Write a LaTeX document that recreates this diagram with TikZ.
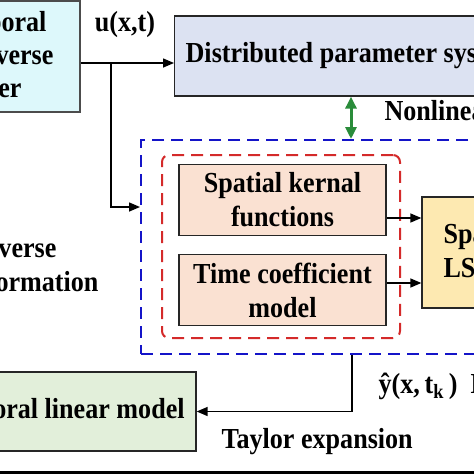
\documentclass[tikz,border=0pt]{standalone}
\usepackage{fontspec}
\setmainfont{Liberation Serif}[FakeStretch=0.9]
\usetikzlibrary{arrows.meta}
\definecolor{ctrlfill}{HTML}{DDF8FB}
\definecolor{dpsfill}{HTML}{DCE2F2}
\definecolor{peach}{HTML}{FAE1D2}
\definecolor{lsfill}{HTML}{FDE9B1}
\definecolor{tlmfill}{HTML}{E2EFDA}
\definecolor{identblue}{HTML}{1414C8}
\definecolor{featred}{HTML}{D42A2A}
\definecolor{arrgreen}{HTML}{2A8C3A}
\begin{document}
\begin{tikzpicture}[x=1pt,y=-1pt,
    every node/.style={font=\fontsize{29}{34}\selectfont\bfseries},
    blk/.style={draw=black!85,line width=1.3pt,inner sep=0pt},
    arr/.style={-{Triangle[length=11pt,width=9pt]},line width=1.5pt},
    dbl/.style={{Triangle[length=12pt,width=11pt]}-{Triangle[length=12pt,width=11pt]},line width=3pt,arrgreen},
    dsh/.style={line width=2pt,dash pattern=on 12pt off 7pt}]
  \useasboundingbox(0,0)rectangle(474,474);
  % boxes
  \node[blk,draw=black!70,fill=ctrlfill,minimum width=200pt,minimum height=111pt](ctrl) at(-20,56.5){};
  \node[anchor=base east](c1) at(50,31){Temporal};
  \node[anchor=base east](c2) at(57,64){inverse};
  \node[anchor=base east](c3) at(25,97){controller};
  \node[blk,fill=dpsfill,anchor=west,minimum height=80pt,inner xsep=11pt](dps) at(174,56){Distributed parameter system};
  \node[draw=identblue,dsh,minimum width=389pt,minimum height=214pt](ident) at(335.5,247){};
  \node[draw=featred,dsh,rounded corners=7pt,minimum width=238pt,minimum height=183pt](feat) at(281,246.5){};
  \node[blk,fill=peach,minimum width=207pt,minimum height=71pt,align=center](skf) at(282.5,200){Spatial kernal\\functions};
  \node[blk,fill=peach,minimum width=207pt,minimum height=71pt,align=center](tcm) at(282.5,290){Time coefficient\\model};
  \node[blk,fill=lsfill,minimum width=118pt,minimum height=111pt](lssvm) at(481,252.5){};
  \node[anchor=base west](ls1) at(440,243){Spatial};
  \node[anchor=base west](ls2) at(440,277){LS-SVM};
  \node[blk,fill=tlmfill,minimum width=277pt,minimum height=79pt](tlm) at(57.5,411.5){Temporal linear model};
  % labels
  \node[anchor=base](u) at(125,31){u(x,t)};
  \node[anchor=base west](nl) at(381,120){Nonlinear};
  \node[anchor=base west](yh) at(375,393){\^{y}(x,\,t\textsubscript{k}\,)\ \ Model};
  \node[anchor=base west](ty) at(218,448){Taylor expansion};
  \node[anchor=base east](iv1) at(60,257){Inverse};
  \node[anchor=base east](iv2) at(102,291){transformation};
  % connectors
  \coordinate(uy) at(0,63);
  \coordinate(br) at(111,63);
  \coordinate(bin) at(0,207);
  \coordinate(gx) at(351,0);
  \coordinate(yx) at(352,0);
  \draw[arr](ctrl.east|-uy)--(dps.west|-uy);
  \draw[arr](br)|-(ident.west|-bin);
  \draw[dbl](dps.south-|gx)--(ident.north-|gx);
  \foreach \s/\y in {skf/218,tcm/283}{
    \coordinate(a) at(0,\y);
    \draw[arr](\s.east|-a)--(lssvm.west|-a);
  }
  \draw[arr](ident.south-|yx)|-(tlm.east);
  \draw[line width=2.5pt](-5,472.5)--(480,472.5);
\end{tikzpicture}
\end{document}
